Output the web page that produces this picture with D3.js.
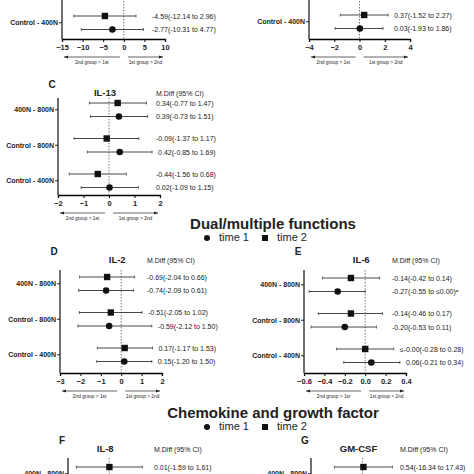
<!DOCTYPE html>
<html><head><meta charset="utf-8">
<script src="https://cdn.jsdelivr.net/npm/d3@7"></script>
<style>body{margin:0;background:#fff}text{font-family:"Liberation Sans",Arial,sans-serif;fill:#222}</style>
</head><body><div class="chart"></div>
<script>
// rows: comparison, time, mean, lower, upper, label
const rowsA = [["Control - 400N",2,-4.59,-12.14,2.96,"-4.59(-12.14 to 2.96)"],["Control - 400N",1,-2.77,-10.31,4.77,"-2.77(-10.31 to 4.77)"]];
const rowsB = [["Control - 400N",2,0.37,-1.52,2.27,"0.37(-1.52 to 2.27)"],["Control - 400N",1,0.03,-1.93,1.86,"0.03(-1.93 to 1.86)"]];
const rowsC = [["400N - 800N",2,0.34,-0.77,1.47,"0.34(-0.77 to 1.47)"],["400N - 800N",1,0.39,-0.73,1.51,"0.39(-0.73 to 1.51)"],
  ["Control - 800N",2,-0.09,-1.37,1.17,"-0.09(-1.37 to 1.17)"],["Control - 800N",1,0.42,-0.85,1.69,"0.42(-0.85 to 1.69)"],
  ["Control - 400N",2,-0.44,-1.56,0.68,"-0.44(-1.56 to 0.68)"],["Control - 400N",1,0.02,-1.09,1.15,"0.02(-1.09 to 1.15)"]];
const rowsD = [["400N  - 800N",2,-0.69,-2.04,0.66,"-0.69(-2.04 to 0.66)"],["400N  - 800N",1,-0.74,-2.09,0.61,"-0.74(-2.09 to 0.61)"],
  ["Control - 800N",2,-0.51,-2.05,1.02,"-0.51(-2.05 to 1.02)"],["Control - 800N",1,-0.59,-2.12,1.50,"-0.59(-2.12 to 1.50)"],
  ["Control - 400N",2,0.17,-1.17,1.53,"0.17(-1.17 to 1.53)"],["Control - 400N",1,0.15,-1.20,1.50,"0.15(-1.20 to 1.50)"]];
const rowsE = [["400N  - 800N",2,-0.14,-0.42,0.14,"-0.14(-0.42 to 0.14)"],["400N  - 800N",1,-0.27,-0.55,0.00,"-0.27(-0.55 to \u22640.00)\u1d43"],
  ["Control - 800N",2,-0.14,-0.46,0.17,"-0.14(-0.46 to 0.17)"],["Control - 800N",1,-0.20,-0.53,0.11,"-0.20(-0.53 to 0.11)"],
  ["Control - 400N",2,0.00,-0.28,0.28,"\u2264-0.00(-0.28 to 0.28)"],["Control - 400N",1,0.06,-0.21,0.34,"0.06(-0.21 to 0.34)"]];
const rowsF = [["400N - 800N",2,0.01,-1.59,1.61,"0.01(-1.59 to 1.61)"]];
const rowsG = [["400N - 800N",2,0.54,-16.34,17.43,"0.54(-16.34 to 17.43)"]];
const legendLabels = ["time 1","time 2"];
const groupTitles = ["Dual/multiple functions","Chemokine and growth factor"];

const panels = [
  {rows:rowsA, letter:"", title:"", domain:[-15,10], ticks:[-15,-10,-5,0,5,10], fmt:"d", x0:62, x1:165, top:-5, base:39, y0:16, annX:152, header:null},
  {rows:rowsB, letter:"", title:"", domain:[-4,4], ticks:[-4,-2,0,2,4], fmt:"d", x0:309, x1:410, top:-5, base:39, y0:15, annX:394, header:null},
  {rows:rowsC, letter:"C", title:"IL-13", domain:[-2,2], ticks:[-2,-1,0,1,2], fmt:"d", x0:58, x1:160, top:98, base:195, y0:103, annX:156, header:96},
  {rows:rowsD, letter:"D", title:"IL-2", domain:[-3,2], ticks:[-3,-2,-1,0,1,2], fmt:"d", x0:60, x1:162, top:270, base:373, y0:277, annX:147, header:263},
  {rows:rowsE, letter:"E", title:"IL-6", domain:[-0.6,0.4], ticks:[-0.6,-0.4,-0.2,0,0.2,0.4], fmt:".1f", x0:304, x1:406, top:270, base:373, y0:278, annX:392, header:263},
  {rows:rowsF, letter:"F", title:"IL-8", domain:[-2,3], ticks:[], fmt:"d", x0:68, x1:171, top:458, base:560, y0:467, annX:154, header:452},
  {rows:rowsG, letter:"G", title:"GM-CSF", domain:[-30,30], ticks:[], fmt:"d", x0:311, x1:414, top:458, base:560, y0:467, annX:400, header:452}
];

const svg = d3.select(".chart").append("svg").attr("width",474).attr("height",474);

panels.forEach(p => {
  const x = d3.scaleLinear().domain(p.domain).range([p.x0,p.x1]);
  const g = svg.append("g");
  const yOf = i => p.y0 + Math.floor(i/2)*35.5 + (i%2)*13.5;

  g.append("line").attr("x1",x(0)).attr("x2",x(0)).attr("y1",p.top).attr("y2",p.base)
    .attr("stroke","#555").attr("stroke-width",0.8).attr("stroke-dasharray","1.5,1.5");
  g.append("line").attr("x1",p.x0).attr("x2",p.x0).attr("y1",p.top).attr("y2",p.base).attr("stroke","#222").attr("stroke-width",1.3);
  const labels = p.rows.filter((r,i)=>i%2==0);
  labels.forEach((r,k)=>{
    const yy = (yOf(2*k) + yOf(2*k+1))/2;
    g.append("line").attr("x1",p.x0-3).attr("x2",p.x0).attr("y1",yy).attr("y2",yy).attr("stroke","#222");
    g.append("text").attr("x",p.x0-4).attr("y",yy+2.5).attr("text-anchor","end")
      .attr("font-size",7).attr("font-weight","bold").text(r[0]);
  });
  if (p.ticks.length) {
    const ax = g.append("g").attr("transform",`translate(0,${p.base})`)
      .call(d3.axisBottom(x).tickValues(p.ticks).tickSize(3).tickFormat(d3.format(p.fmt)));
    ax.select(".domain").attr("stroke-width",1.3);
    ax.selectAll("text").attr("font-size",7.5).attr("font-weight","bold").attr("dy","0.6em");
    const ay = p.base + 18, z = x(0);
    [[z-4,p.x0+2,"2nd group > 1st"],[z+4,p.x1-2,"1st group > 2nd"]].forEach(([a,b,t])=>{
      g.append("line").attr("x1",a).attr("x2",b).attr("y1",ay).attr("y2",ay).attr("stroke","#222").attr("stroke-width",0.7);
      const s = b<a ? 1 : -1;
      g.append("path").attr("d",`M${b},${ay}l${s*4},-1.6v3.2z`).attr("fill","#222");
      g.append("text").attr("x",(a+b)/2).attr("y",ay+7).attr("text-anchor","middle").attr("font-size",4.8).text(t);
    });
  }
  if (p.header!==null) {
    g.append("text").attr("x",p.x0-6).attr("y",p.header-8).attr("text-anchor","middle").attr("font-size",10).attr("font-weight","bold").text(p.letter);
    g.append("text").attr("x",x(0)-4).attr("y",p.header).attr("text-anchor","middle").attr("font-size",9.5).attr("font-weight","bold").text(p.title);
    g.append("text").attr("x",p.annX).attr("y",p.header).attr("font-size",7).text("M.Diff (95% CI)");
  }
  p.rows.forEach((r,i)=>{
    const yy = yOf(i);
    g.append("line").attr("x1",x(r[3])).attr("x2",x(r[4])).attr("y1",yy).attr("y2",yy).attr("stroke","#333").attr("stroke-width",0.9);
    [r[3],r[4]].forEach(v=>g.append("line").attr("x1",x(v)).attr("x2",x(v)).attr("y1",yy-1.5).attr("y2",yy+1.5).attr("stroke","#333").attr("stroke-width",0.7));
    if (r[1]===2) g.append("rect").attr("x",x(r[2])-3.2).attr("y",yy-3.2).attr("width",6.4).attr("height",6.4).attr("fill","#111");
    else g.append("circle").attr("cx",x(r[2])).attr("cy",yy).attr("r",3.3).attr("fill","#111");
    g.append("text").attr("x",Math.max(p.annX, x(r[4])+6)).attr("y",yy+2.5).attr("font-size",7).text(r[5]);
  });
});

[[groupTitles[0],229],[groupTitles[1],418]].forEach(([t,y])=>{
  svg.append("text").attr("x",273).attr("y",y).attr("text-anchor","middle").attr("font-size",15).attr("font-weight","bold").text(t);
  const ly = y+12;
  svg.append("circle").attr("cx",207).attr("cy",ly-3).attr("r",3).attr("fill","#111");
  svg.append("text").attr("x",219).attr("y",ly).attr("font-size",11).text(legendLabels[0]);
  svg.append("rect").attr("x",262).attr("y",ly-6).attr("width",6).attr("height",6).attr("fill","#111");
  svg.append("text").attr("x",277).attr("y",ly).attr("font-size",11).text(legendLabels[1]);
});
</script></body></html>
